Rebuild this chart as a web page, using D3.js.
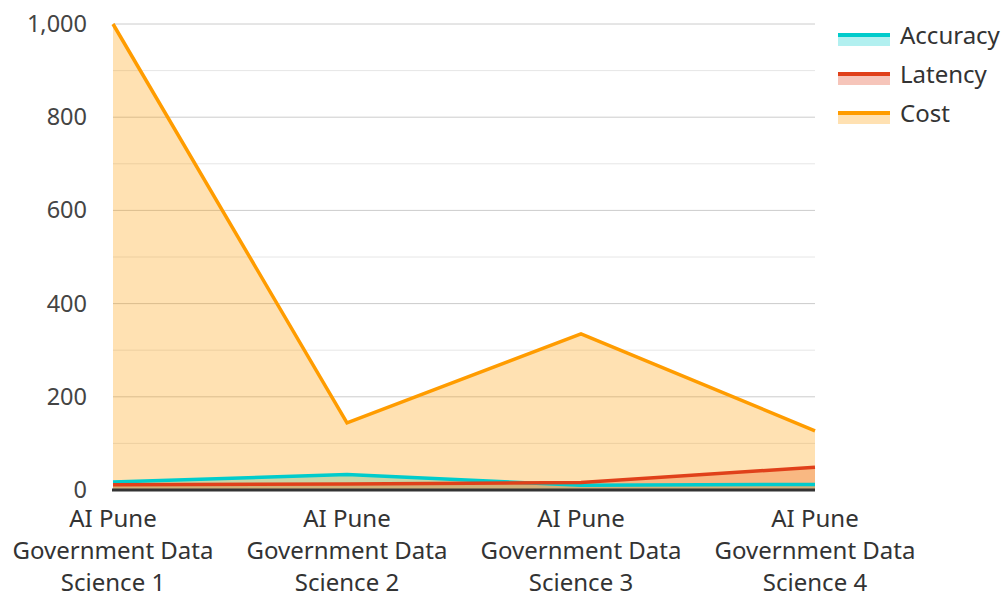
<!DOCTYPE html>
<html>
<head>
<meta charset="utf-8">
<script src="https://cdn.jsdelivr.net/npm/d3@7"></script>
<style>
  body { margin: 0; background: #fff; }
  text { font-family: "Noto Sans", sans-serif; }
</style>
</head>
<body>
<div class="line-chart"></div>
<script>
// data
const categories = [
  "AI Pune Government Data Science 1",
  "AI Pune Government Data Science 2",
  "AI Pune Government Data Science 3",
  "AI Pune Government Data Science 4"
];
const accuracy = [17, 33, 10, 12];
const latency = [11, 13, 16, 49];
const cost = [1000, 144, 335, 127];
const yTicks = [0, 200, 400, 600, 800, 1000];

const series = [
  { name: "Accuracy", values: accuracy, color: "#00cccc" },
  { name: "Latency", values: latency, color: "#e0401a" },
  { name: "Cost", values: cost, color: "#ff9c00" }
];

const margin = { top: 24, right: 190, bottom: 104, left: 113 };
const width = 1005 - margin.left - margin.right;
const height = 594 - margin.top - margin.bottom;

const x = d3.scalePoint().domain(categories).range([0, width]);
const y = d3.scaleLinear().domain([0, 1000]).range([height, 0]);

const svg = d3.select(".line-chart")
  .append("svg")
  .attr("width", 1005)
  .attr("height", 594)
  .append("g")
  .attr("transform", "translate(" + margin.left + "," + margin.top + ")");

// minor grid lines
svg.append("g")
  .selectAll("line")
  .data(d3.range(100, 1000, 200))
  .enter()
  .append("line")
  .attr("x1", 0).attr("x2", width)
  .attr("y1", d => y(d)).attr("y2", d => y(d))
  .attr("stroke", "#e6e6e6")
  .attr("stroke-width", 1);

// major grid lines
svg.append("g")
  .selectAll("line")
  .data(yTicks.slice(1))
  .enter()
  .append("line")
  .attr("x1", 0).attr("x2", width)
  .attr("y1", d => y(d)).attr("y2", d => y(d))
  .attr("stroke", "#cccccc")
  .attr("stroke-width", 1);

const area = d3.area()
  .x((d, i) => x(categories[i]))
  .y0(y(0))
  .y1(d => y(d));

const line = d3.line()
  .x((d, i) => x(categories[i]))
  .y(d => y(d));

svg.selectAll(".area")
  .data(series)
  .enter()
  .append("path")
  .attr("class", "area")
  .attr("d", d => area(d.values))
  .attr("fill", d => d.color)
  .attr("fill-opacity", 0.3);

svg.selectAll(".line")
  .data(series)
  .enter()
  .append("path")
  .attr("class", "line")
  .attr("d", d => line(d.values))
  .attr("fill", "none")
  .attr("stroke", d => d.color)
  .attr("stroke-width", 3.5)
  .attr("stroke-linejoin", "miter");

// y axis
const yAxis = svg.append("g")
  .call(d3.axisLeft(y).tickValues(yTicks).tickFormat(d3.format(",")).tickSize(0).tickPadding(26));
yAxis.select(".domain").remove();
yAxis.selectAll("text")
  .attr("fill", "#444")
  .style("font-size", "23.5px");

// x axis baseline
svg.append("line")
  .attr("x1", -1).attr("x2", width)
  .attr("y1", y(0)).attr("y2", y(0))
  .attr("stroke", "#333")
  .attr("stroke-width", 3);

// x labels, wrapped
const xl = svg.append("g")
  .selectAll("text")
  .data(categories)
  .enter()
  .append("text")
  .attr("text-anchor", "middle")
  .attr("fill", "#333")
  .style("font-size", "24px")
  .attr("transform", d => "translate(" + x(d) + "," + (height + 37) + ")");

xl.each(function (d) {
  const words = d.split(" ");
  const lines = [words.slice(0, 2).join(" "), words.slice(2, 4).join(" "), words.slice(4).join(" ")];
  d3.select(this).selectAll("tspan")
    .data(lines)
    .enter()
    .append("tspan")
    .attr("x", 0)
    .attr("dy", (l, i) => i === 0 ? 0 : 32)
    .text(l => l);
});

// legend
const legend = svg.append("g")
  .attr("transform", "translate(" + (width + 23) + ",0)");

const item = legend.selectAll("g")
  .data(series)
  .enter()
  .append("g")
  .attr("transform", (d, i) => "translate(0," + (12 + i * 39) + ")");

item.append("rect")
  .attr("x", 0).attr("y", -3)
  .attr("width", 52).attr("height", 13)
  .attr("fill", d => d.color)
  .attr("fill-opacity", 0.3);

item.append("rect")
  .attr("x", 0).attr("y", -3)
  .attr("width", 52).attr("height", 4)
  .attr("fill", d => d.color);

item.append("text")
  .attr("x", 62).attr("y", 0)
  .attr("dy", "0.35em")
  .attr("fill", "#333")
  .style("font-size", "24px")
  .text(d => d.name);
</script>
</body>
</html>
